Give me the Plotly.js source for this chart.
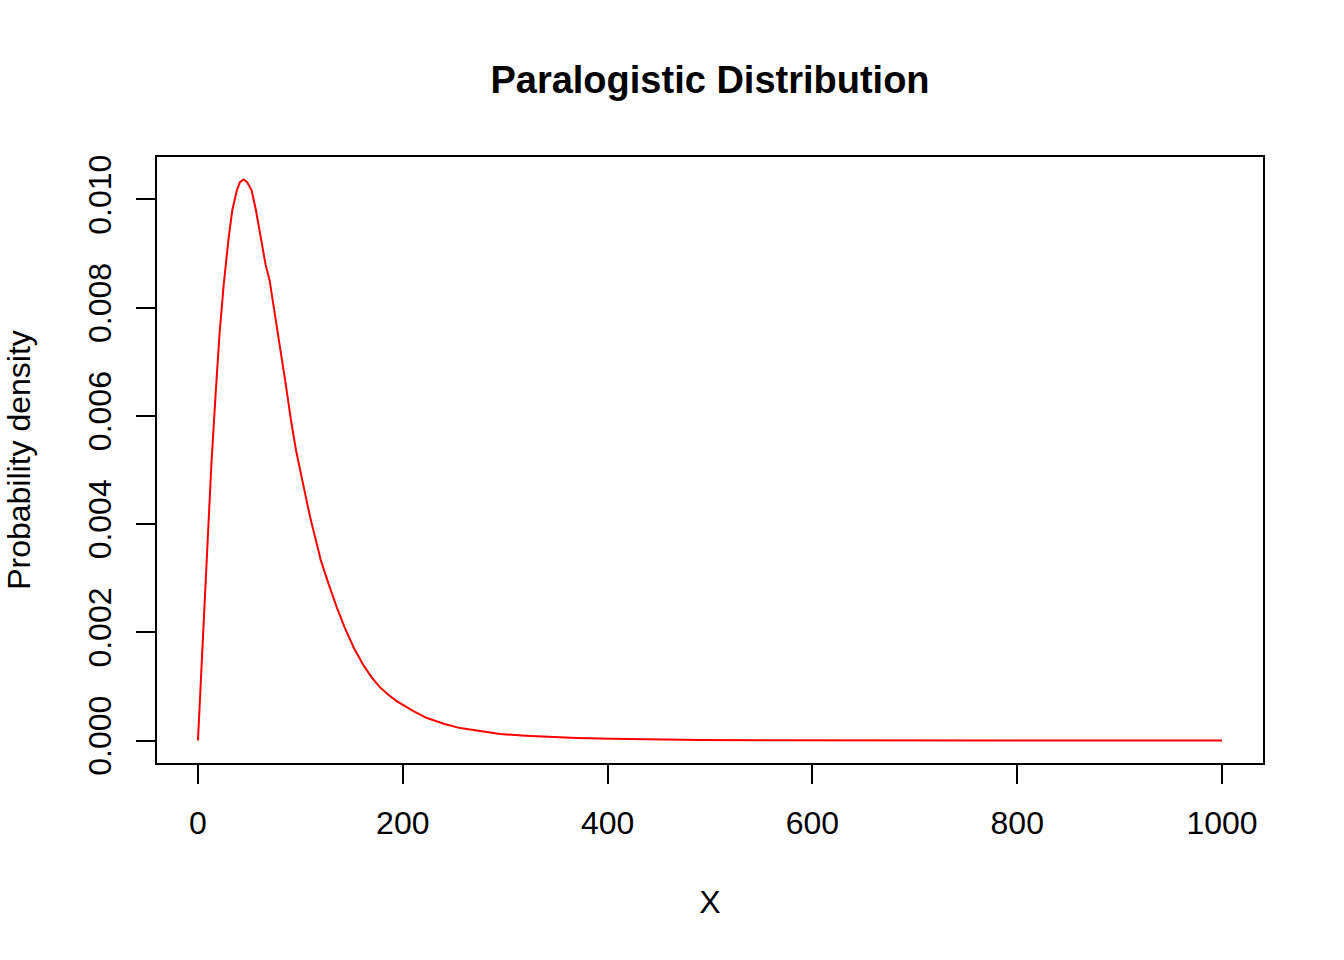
<!DOCTYPE html>
<html>
<head>
<meta charset="utf-8">
<script src="https://cdn.plot.ly/plotly-3.0.1.min.js"></script>
<style>
  html, body { margin: 0; padding: 0; background: #fff; }
  #chart { width: 1344px; height: 960px; }
</style>
</head>
<body>
<div id="chart"></div>
<script>
// density curve (x, density)
const xVals = [0, 2, 4, 7, 10, 13, 17, 21, 25, 28, 30, 33.5, 38, 41, 44.6, 48, 52.4, 56.6, 61.5, 66, 70,
    76, 81, 86, 91, 95.7, 102, 109.4, 115, 120, 127.3, 135.4, 143, 152, 162, 170, 178, 185, 194, 210, 223,
    240, 256, 275, 295, 320, 344, 370, 404, 450, 490, 550, 600, 700, 800, 900, 1000];
const densVals = [0, 0.00080, 0.00158, 0.00268, 0.00390, 0.00507, 0.00633, 0.00750, 0.00840, 0.00895,
    0.00930, 0.00980, 0.01017, 0.01032, 0.01037, 0.01032, 0.01017, 0.00980, 0.00930, 0.00880, 0.00850,
    0.00780, 0.00720, 0.00655, 0.00590, 0.00537, 0.00480, 0.00414, 0.00371, 0.00333, 0.00291, 0.00247,
    0.00210, 0.00172, 0.00138, 0.00116, 0.00098, 0.00086, 0.00073, 0.00055, 0.00042, 0.00031, 0.00023,
    0.00017, 0.00012, 0.00009, 0.000068, 0.000048, 0.000031, 0.000016, 0.000008, 0.000004, 0.000002,
    0.000001, 0.0000005, 0.0000003, 0.0000002];

const xTicks = [0, 200, 400, 600, 800, 1000];
const yTicks = [0, 0.002, 0.004, 0.006, 0.008, 0.010];

const font = 'Liberation Sans, Arial, sans-serif';

const trace = {
    type: 'scatter',
    mode: 'lines',
    x: xVals,
    y: densVals,
    line: {color: '#ff0000', width: 2},
    hoverinfo: 'skip'
};

const layout = {
    width: 1344,
    height: 960,
    margin: {l: 157, r: 81, t: 157, b: 197},
    paper_bgcolor: '#ffffff',
    plot_bgcolor: '#ffffff',
    showlegend: false,
    font: {family: font, size: 32, color: '#000'},
    title: {
        text: '<b>Paralogistic Distribution</b>',
        font: {family: font, size: 38, color: '#000'},
        xref: 'paper', x: 0.5, xanchor: 'center',
        yref: 'container', y: 1 - 80 / 960, yanchor: 'middle'
    },
    xaxis: {
        range: [-40, 1040],
        tickvals: xTicks,
        ticks: 'outside', ticklen: 19, tickwidth: 2, tickcolor: '#000',
        showline: true, mirror: true, linecolor: '#000', linewidth: 2,
        showgrid: false, zeroline: false,
        tickfont: {family: font, size: 32},
        ticklabelstandoff: 12,
        title: {text: 'X', font: {family: font, size: 32}, standoff: 50}
    },
    yaxis: {
        range: [-0.000415, 0.010785],
        tickvals: yTicks,
        tickformat: '.3f',
        tickangle: -90,
        ticks: 'outside', ticklen: 19, tickwidth: 2, tickcolor: '#000',
        showline: true, mirror: true, linecolor: '#000', linewidth: 2,
        showgrid: false, zeroline: false,
        tickfont: {family: font, size: 32},
        ticklabelstandoff: 12,
        title: {text: 'Probability density', font: {family: font, size: 32}, standoff: 42}
    }
};

Plotly.newPlot('chart', [trace], layout, {staticPlot: true});
</script>
</body>
</html>
